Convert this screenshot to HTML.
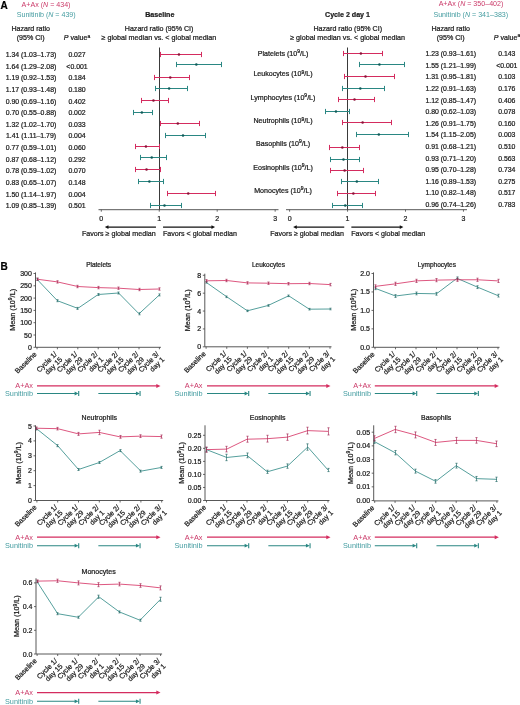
<!DOCTYPE html>
<html lang="en"><head><meta charset="utf-8"><title>Figure</title>
<style>
html,body{margin:0;padding:0;background:#fff;}
body{width:520px;height:705px;overflow:hidden;}
svg{display:block;font-family:"Liberation Sans",Arial,Helvetica,sans-serif;}
text{stroke-width:0.22px;}
</style></head><body>
<svg width="520" height="705" viewBox="0 0 520 705">
<rect width="520" height="705" fill="#ffffff"/>
<text x="0.50" y="8.70" font-size="10" font-weight="bold" fill="#000" stroke="#000">A</text>
<text x="46.00" y="7.30" font-size="7.1" text-anchor="middle" fill="#cb3a69">A+Ax (<tspan font-style="italic">N</tspan> = 434)</text>
<text x="46.20" y="17.20" font-size="7.1" text-anchor="middle" fill="#459da1">Sunitinib (<tspan font-style="italic">N</tspan> = 439)</text>
<text x="471.00" y="6.30" font-size="7.1" text-anchor="middle" fill="#cb3a69">A+Ax (<tspan font-style="italic">N</tspan> = 350–402)</text>
<text x="470.80" y="16.90" font-size="7.1" text-anchor="middle" fill="#459da1">Sunitinib (<tspan font-style="italic">N</tspan> = 341–383)</text>
<text x="159.80" y="16.50" font-size="7.1" text-anchor="middle" font-weight="bold" fill="#1a1a1a" stroke="#1a1a1a">Baseline</text>
<text x="347.50" y="16.50" font-size="7.1" text-anchor="middle" font-weight="bold" fill="#1a1a1a" stroke="#1a1a1a">Cycle 2 day 1</text>
<text x="159.10" y="30.50" font-size="7.1" text-anchor="middle" fill="#1a1a1a" stroke="#1a1a1a">Hazard ratio (95% CI)</text>
<text x="158.90" y="39.90" font-size="7.2" text-anchor="middle" fill="#1a1a1a" stroke="#1a1a1a">≥ global median vs. &lt; global median</text>
<text x="347.80" y="30.50" font-size="7.1" text-anchor="middle" fill="#1a1a1a" stroke="#1a1a1a">Hazard ratio (95% CI)</text>
<text x="347.60" y="39.90" font-size="7.2" text-anchor="middle" fill="#1a1a1a" stroke="#1a1a1a">≥ global median vs. &lt; global median</text>
<text x="30.70" y="31.10" font-size="7.1" text-anchor="middle" fill="#1a1a1a" stroke="#1a1a1a">Hazard ratio</text>
<text x="30.70" y="40.30" font-size="7.1" text-anchor="middle" fill="#1a1a1a" stroke="#1a1a1a">(95% CI)</text>
<text x="77.00" y="40.30" font-size="7.1" text-anchor="middle" fill="#1a1a1a" stroke="#1a1a1a"><tspan font-style="italic">P</tspan> value<tspan font-size="5" dy="-2.8">a</tspan></text>
<text x="450.70" y="30.60" font-size="7.1" text-anchor="middle" fill="#1a1a1a" stroke="#1a1a1a">Hazard ratio</text>
<text x="450.70" y="39.80" font-size="7.1" text-anchor="middle" fill="#1a1a1a" stroke="#1a1a1a">(95% CI)</text>
<text x="507.00" y="39.80" font-size="7.1" text-anchor="middle" fill="#1a1a1a" stroke="#1a1a1a"><tspan font-style="italic">P</tspan> value<tspan font-size="5" dy="-2.8">a</tspan></text>
<text x="31.00" y="56.90" font-size="6.9" text-anchor="middle" fill="#1a1a1a" stroke="#1a1a1a">1.34 (1.03–1.73)</text>
<text x="77.00" y="56.90" font-size="6.9" text-anchor="middle" fill="#1a1a1a" stroke="#1a1a1a">0.027</text>
<text x="31.00" y="68.55" font-size="6.9" text-anchor="middle" fill="#1a1a1a" stroke="#1a1a1a">1.64 (1.29–2.08)</text>
<text x="77.00" y="68.55" font-size="6.9" text-anchor="middle" fill="#1a1a1a" stroke="#1a1a1a">&lt;0.001</text>
<text x="31.00" y="80.20" font-size="6.9" text-anchor="middle" fill="#1a1a1a" stroke="#1a1a1a">1.19 (0.92–1.53)</text>
<text x="77.00" y="80.20" font-size="6.9" text-anchor="middle" fill="#1a1a1a" stroke="#1a1a1a">0.184</text>
<text x="31.00" y="91.85" font-size="6.9" text-anchor="middle" fill="#1a1a1a" stroke="#1a1a1a">1.17 (0.93–1.48)</text>
<text x="77.00" y="91.85" font-size="6.9" text-anchor="middle" fill="#1a1a1a" stroke="#1a1a1a">0.180</text>
<text x="31.00" y="103.50" font-size="6.9" text-anchor="middle" fill="#1a1a1a" stroke="#1a1a1a">0.90 (0.69–1.16)</text>
<text x="77.00" y="103.50" font-size="6.9" text-anchor="middle" fill="#1a1a1a" stroke="#1a1a1a">0.402</text>
<text x="31.00" y="115.15" font-size="6.9" text-anchor="middle" fill="#1a1a1a" stroke="#1a1a1a">0.70 (0.55–0.88)</text>
<text x="77.00" y="115.15" font-size="6.9" text-anchor="middle" fill="#1a1a1a" stroke="#1a1a1a">0.002</text>
<text x="31.00" y="126.80" font-size="6.9" text-anchor="middle" fill="#1a1a1a" stroke="#1a1a1a">1.32 (1.02–1.70)</text>
<text x="77.00" y="126.80" font-size="6.9" text-anchor="middle" fill="#1a1a1a" stroke="#1a1a1a">0.033</text>
<text x="31.00" y="138.45" font-size="6.9" text-anchor="middle" fill="#1a1a1a" stroke="#1a1a1a">1.41 (1.11–1.79)</text>
<text x="77.00" y="138.45" font-size="6.9" text-anchor="middle" fill="#1a1a1a" stroke="#1a1a1a">0.004</text>
<text x="31.00" y="150.10" font-size="6.9" text-anchor="middle" fill="#1a1a1a" stroke="#1a1a1a">0.77 (0.59–1.01)</text>
<text x="77.00" y="150.10" font-size="6.9" text-anchor="middle" fill="#1a1a1a" stroke="#1a1a1a">0.060</text>
<text x="31.00" y="161.75" font-size="6.9" text-anchor="middle" fill="#1a1a1a" stroke="#1a1a1a">0.87 (0.68–1.12)</text>
<text x="77.00" y="161.75" font-size="6.9" text-anchor="middle" fill="#1a1a1a" stroke="#1a1a1a">0.292</text>
<text x="31.00" y="173.40" font-size="6.9" text-anchor="middle" fill="#1a1a1a" stroke="#1a1a1a">0.78 (0.59–1.02)</text>
<text x="77.00" y="173.40" font-size="6.9" text-anchor="middle" fill="#1a1a1a" stroke="#1a1a1a">0.070</text>
<text x="31.00" y="185.05" font-size="6.9" text-anchor="middle" fill="#1a1a1a" stroke="#1a1a1a">0.83 (0.65–1.07)</text>
<text x="77.00" y="185.05" font-size="6.9" text-anchor="middle" fill="#1a1a1a" stroke="#1a1a1a">0.148</text>
<text x="31.00" y="196.70" font-size="6.9" text-anchor="middle" fill="#1a1a1a" stroke="#1a1a1a">1.50 (1.14–1.97)</text>
<text x="77.00" y="196.70" font-size="6.9" text-anchor="middle" fill="#1a1a1a" stroke="#1a1a1a">0.004</text>
<text x="31.00" y="208.35" font-size="6.9" text-anchor="middle" fill="#1a1a1a" stroke="#1a1a1a">1.09 (0.85–1.39)</text>
<text x="77.00" y="208.35" font-size="6.9" text-anchor="middle" fill="#1a1a1a" stroke="#1a1a1a">0.501</text>
<text x="450.80" y="55.60" font-size="6.9" text-anchor="middle" fill="#1a1a1a" stroke="#1a1a1a">1.23 (0.93–1.61)</text>
<text x="506.80" y="55.60" font-size="6.9" text-anchor="middle" fill="#1a1a1a" stroke="#1a1a1a">0.143</text>
<text x="450.80" y="67.60" font-size="6.9" text-anchor="middle" fill="#1a1a1a" stroke="#1a1a1a">1.55 (1.21–1.99)</text>
<text x="506.80" y="67.60" font-size="6.9" text-anchor="middle" fill="#1a1a1a" stroke="#1a1a1a">&lt;0.001</text>
<text x="450.80" y="79.00" font-size="6.9" text-anchor="middle" fill="#1a1a1a" stroke="#1a1a1a">1.31 (0.95–1.81)</text>
<text x="506.80" y="79.00" font-size="6.9" text-anchor="middle" fill="#1a1a1a" stroke="#1a1a1a">0.103</text>
<text x="450.80" y="90.60" font-size="6.9" text-anchor="middle" fill="#1a1a1a" stroke="#1a1a1a">1.22 (0.91–1.63)</text>
<text x="506.80" y="90.60" font-size="6.9" text-anchor="middle" fill="#1a1a1a" stroke="#1a1a1a">0.176</text>
<text x="450.80" y="102.50" font-size="6.9" text-anchor="middle" fill="#1a1a1a" stroke="#1a1a1a">1.12 (0.85–1.47)</text>
<text x="506.80" y="102.50" font-size="6.9" text-anchor="middle" fill="#1a1a1a" stroke="#1a1a1a">0.406</text>
<text x="450.80" y="114.20" font-size="6.9" text-anchor="middle" fill="#1a1a1a" stroke="#1a1a1a">0.80 (0.62–1.03)</text>
<text x="506.80" y="114.20" font-size="6.9" text-anchor="middle" fill="#1a1a1a" stroke="#1a1a1a">0.078</text>
<text x="450.80" y="125.80" font-size="6.9" text-anchor="middle" fill="#1a1a1a" stroke="#1a1a1a">1.26 (0.91–1.75)</text>
<text x="506.80" y="125.80" font-size="6.9" text-anchor="middle" fill="#1a1a1a" stroke="#1a1a1a">0.160</text>
<text x="450.80" y="136.80" font-size="6.9" text-anchor="middle" fill="#1a1a1a" stroke="#1a1a1a">1.54 (1.15–2.05)</text>
<text x="506.80" y="136.80" font-size="6.9" text-anchor="middle" fill="#1a1a1a" stroke="#1a1a1a">0.003</text>
<text x="450.80" y="149.30" font-size="6.9" text-anchor="middle" fill="#1a1a1a" stroke="#1a1a1a">0.91 (0.68–1.21)</text>
<text x="506.80" y="149.30" font-size="6.9" text-anchor="middle" fill="#1a1a1a" stroke="#1a1a1a">0.510</text>
<text x="450.80" y="160.50" font-size="6.9" text-anchor="middle" fill="#1a1a1a" stroke="#1a1a1a">0.93 (0.71–1.20)</text>
<text x="506.80" y="160.50" font-size="6.9" text-anchor="middle" fill="#1a1a1a" stroke="#1a1a1a">0.563</text>
<text x="450.80" y="172.00" font-size="6.9" text-anchor="middle" fill="#1a1a1a" stroke="#1a1a1a">0.95 (0.70–1.28)</text>
<text x="506.80" y="172.00" font-size="6.9" text-anchor="middle" fill="#1a1a1a" stroke="#1a1a1a">0.734</text>
<text x="450.80" y="183.80" font-size="6.9" text-anchor="middle" fill="#1a1a1a" stroke="#1a1a1a">1.16 (0.89–1.53)</text>
<text x="506.80" y="183.80" font-size="6.9" text-anchor="middle" fill="#1a1a1a" stroke="#1a1a1a">0.275</text>
<text x="450.80" y="195.20" font-size="6.9" text-anchor="middle" fill="#1a1a1a" stroke="#1a1a1a">1.10 (0.82–1.48)</text>
<text x="506.80" y="195.20" font-size="6.9" text-anchor="middle" fill="#1a1a1a" stroke="#1a1a1a">0.517</text>
<text x="450.80" y="206.70" font-size="6.9" text-anchor="middle" fill="#1a1a1a" stroke="#1a1a1a">0.96 (0.74–1.26)</text>
<text x="506.80" y="206.70" font-size="6.9" text-anchor="middle" fill="#1a1a1a" stroke="#1a1a1a">0.783</text>
<text x="283.00" y="55.80" font-size="7.1" text-anchor="middle" fill="#1a1a1a" stroke="#1a1a1a">Platelets (10<tspan font-size="5" dy="-2.8">9</tspan><tspan dy="2.8">/L)</tspan></text>
<text x="283.00" y="76.30" font-size="7.1" text-anchor="middle" fill="#1a1a1a" stroke="#1a1a1a">Leukocytes (10<tspan font-size="5" dy="-2.8">9</tspan><tspan dy="2.8">/L)</tspan></text>
<text x="283.00" y="99.60" font-size="7.1" text-anchor="middle" fill="#1a1a1a" stroke="#1a1a1a">Lymphocytes (10<tspan font-size="5" dy="-2.8">9</tspan><tspan dy="2.8">/L)</tspan></text>
<text x="283.00" y="123.30" font-size="7.1" text-anchor="middle" fill="#1a1a1a" stroke="#1a1a1a">Neutrophils (10<tspan font-size="5" dy="-2.8">9</tspan><tspan dy="2.8">/L)</tspan></text>
<text x="283.00" y="145.90" font-size="7.1" text-anchor="middle" fill="#1a1a1a" stroke="#1a1a1a">Basophils (10<tspan font-size="5" dy="-2.8">9</tspan><tspan dy="2.8">/L)</tspan></text>
<text x="283.00" y="169.50" font-size="7.1" text-anchor="middle" fill="#1a1a1a" stroke="#1a1a1a">Eosinophils (10<tspan font-size="5" dy="-2.8">9</tspan><tspan dy="2.8">/L)</tspan></text>
<text x="283.00" y="192.80" font-size="7.1" text-anchor="middle" fill="#1a1a1a" stroke="#1a1a1a">Monocytes (10<tspan font-size="5" dy="-2.8">9</tspan><tspan dy="2.8">/L)</tspan></text>
<line x1="159.50" y1="47.5" x2="159.50" y2="209.7" stroke="#3a3a3a" stroke-width="1"/>
<line x1="98.5" y1="209.7" x2="278.5" y2="209.7" stroke="#454545" stroke-width="0.9"/>
<line x1="101.30" y1="209.7" x2="101.30" y2="211.7" stroke="#454545" stroke-width="0.8"/>
<text x="101.30" y="220.50" font-size="7" text-anchor="middle" fill="#1a1a1a" stroke="#1a1a1a">0</text>
<line x1="159.25" y1="209.7" x2="159.25" y2="211.7" stroke="#454545" stroke-width="0.8"/>
<text x="159.25" y="220.50" font-size="7" text-anchor="middle" fill="#1a1a1a" stroke="#1a1a1a">1</text>
<line x1="217.20" y1="209.7" x2="217.20" y2="211.7" stroke="#454545" stroke-width="0.8"/>
<text x="217.20" y="220.50" font-size="7" text-anchor="middle" fill="#1a1a1a" stroke="#1a1a1a">2</text>
<line x1="275.15" y1="209.7" x2="275.15" y2="211.7" stroke="#454545" stroke-width="0.8"/>
<text x="275.15" y="220.50" font-size="7" text-anchor="middle" fill="#1a1a1a" stroke="#1a1a1a">3</text>
<path d="M160.50 51.90V57.10M201.50 51.90V57.10M160.50 54.50H201.50" stroke="#d42c5f" stroke-width="1" fill="none"/>
<circle cx="178.95" cy="54.50" r="1.25" fill="#8c1238"/>
<path d="M176.50 61.90V67.10M221.50 61.90V67.10M176.50 64.50H221.50" stroke="#2a8783" stroke-width="1" fill="none"/>
<circle cx="196.34" cy="64.50" r="1.25" fill="#0f5a58"/>
<path d="M154.50 74.90V80.10M189.50 74.90V80.10M154.50 77.50H189.50" stroke="#d42c5f" stroke-width="1" fill="none"/>
<circle cx="170.26" cy="77.50" r="1.25" fill="#8c1238"/>
<path d="M155.50 85.90V91.10M187.50 85.90V91.10M155.50 88.50H187.50" stroke="#2a8783" stroke-width="1" fill="none"/>
<circle cx="169.10" cy="88.50" r="1.25" fill="#0f5a58"/>
<path d="M141.50 97.90V103.10M168.50 97.90V103.10M141.50 100.50H168.50" stroke="#d42c5f" stroke-width="1" fill="none"/>
<circle cx="153.45" cy="100.50" r="1.25" fill="#8c1238"/>
<path d="M133.50 109.90V115.10M152.50 109.90V115.10M133.50 112.50H152.50" stroke="#2a8783" stroke-width="1" fill="none"/>
<circle cx="141.87" cy="112.50" r="1.25" fill="#0f5a58"/>
<path d="M160.50 120.90V126.10M199.50 120.90V126.10M160.50 123.50H199.50" stroke="#d42c5f" stroke-width="1" fill="none"/>
<circle cx="177.79" cy="123.50" r="1.25" fill="#8c1238"/>
<path d="M165.50 132.90V138.10M205.50 132.90V138.10M165.50 135.50H205.50" stroke="#2a8783" stroke-width="1" fill="none"/>
<circle cx="183.01" cy="135.50" r="1.25" fill="#0f5a58"/>
<path d="M135.50 143.90V149.10M159.50 143.90V149.10M135.50 146.50H159.50" stroke="#d42c5f" stroke-width="1" fill="none"/>
<circle cx="145.92" cy="146.50" r="1.25" fill="#8c1238"/>
<path d="M140.50 154.90V160.10M166.50 154.90V160.10M140.50 157.50H166.50" stroke="#2a8783" stroke-width="1" fill="none"/>
<circle cx="151.72" cy="157.50" r="1.25" fill="#0f5a58"/>
<path d="M135.50 166.90V172.10M160.50 166.90V172.10M135.50 169.50H160.50" stroke="#d42c5f" stroke-width="1" fill="none"/>
<circle cx="146.50" cy="169.50" r="1.25" fill="#8c1238"/>
<path d="M138.50 178.90V184.10M163.50 178.90V184.10M138.50 181.50H163.50" stroke="#2a8783" stroke-width="1" fill="none"/>
<circle cx="149.40" cy="181.50" r="1.25" fill="#0f5a58"/>
<path d="M167.50 190.90V196.10M215.50 190.90V196.10M167.50 193.50H215.50" stroke="#d42c5f" stroke-width="1" fill="none"/>
<circle cx="188.23" cy="193.50" r="1.25" fill="#8c1238"/>
<path d="M150.50 202.90V208.10M181.50 202.90V208.10M150.50 205.50H181.50" stroke="#2a8783" stroke-width="1" fill="none"/>
<circle cx="164.47" cy="205.50" r="1.25" fill="#0f5a58"/>
<path d="M155.95 227.1H107.25" stroke="#111" stroke-width="1.1" fill="none"/>
<path d="M104.85 227.1l3.6 -1.9v3.8z" fill="#111"/>
<path d="M163.05 227.1H212.25" stroke="#111" stroke-width="1.1" fill="none"/>
<path d="M215.05 227.1l-3.6 -1.9v3.8z" fill="#111"/>
<text x="155.65" y="235.80" font-size="7.1" text-anchor="end" fill="#1a1a1a" stroke="#1a1a1a">Favors ≥ global median</text>
<text x="162.95" y="235.80" font-size="7.1" fill="#1a1a1a" stroke="#1a1a1a">Favors &lt; global median</text>
<line x1="347.50" y1="47.5" x2="347.50" y2="209.7" stroke="#3a3a3a" stroke-width="1"/>
<line x1="286" y1="209.7" x2="467" y2="209.7" stroke="#454545" stroke-width="0.9"/>
<line x1="289.60" y1="209.7" x2="289.60" y2="211.7" stroke="#454545" stroke-width="0.8"/>
<text x="289.60" y="220.50" font-size="7" text-anchor="middle" fill="#1a1a1a" stroke="#1a1a1a">0</text>
<line x1="347.55" y1="209.7" x2="347.55" y2="211.7" stroke="#454545" stroke-width="0.8"/>
<text x="347.55" y="220.50" font-size="7" text-anchor="middle" fill="#1a1a1a" stroke="#1a1a1a">1</text>
<line x1="405.50" y1="209.7" x2="405.50" y2="211.7" stroke="#454545" stroke-width="0.8"/>
<text x="405.50" y="220.50" font-size="7" text-anchor="middle" fill="#1a1a1a" stroke="#1a1a1a">2</text>
<line x1="463.45" y1="209.7" x2="463.45" y2="211.7" stroke="#454545" stroke-width="0.8"/>
<text x="463.45" y="220.50" font-size="7" text-anchor="middle" fill="#1a1a1a" stroke="#1a1a1a">3</text>
<path d="M343.50 50.90V56.10M382.50 50.90V56.10M343.50 53.50H382.50" stroke="#d42c5f" stroke-width="1" fill="none"/>
<circle cx="360.88" cy="53.50" r="1.25" fill="#8c1238"/>
<path d="M359.50 61.90V67.10M404.50 61.90V67.10M359.50 64.50H404.50" stroke="#2a8783" stroke-width="1" fill="none"/>
<circle cx="379.42" cy="64.50" r="1.25" fill="#0f5a58"/>
<path d="M344.50 73.90V79.10M394.50 73.90V79.10M344.50 76.50H394.50" stroke="#d42c5f" stroke-width="1" fill="none"/>
<circle cx="365.51" cy="76.50" r="1.25" fill="#8c1238"/>
<path d="M342.50 85.90V91.10M384.50 85.90V91.10M342.50 88.50H384.50" stroke="#2a8783" stroke-width="1" fill="none"/>
<circle cx="360.30" cy="88.50" r="1.25" fill="#0f5a58"/>
<path d="M338.50 96.90V102.10M374.50 96.90V102.10M338.50 99.50H374.50" stroke="#d42c5f" stroke-width="1" fill="none"/>
<circle cx="354.50" cy="99.50" r="1.25" fill="#8c1238"/>
<path d="M325.50 108.90V114.10M349.50 108.90V114.10M325.50 111.50H349.50" stroke="#2a8783" stroke-width="1" fill="none"/>
<circle cx="335.96" cy="111.50" r="1.25" fill="#0f5a58"/>
<path d="M342.50 119.90V125.10M391.50 119.90V125.10M342.50 122.50H391.50" stroke="#d42c5f" stroke-width="1" fill="none"/>
<circle cx="362.62" cy="122.50" r="1.25" fill="#8c1238"/>
<path d="M356.50 131.90V137.10M408.50 131.90V137.10M356.50 134.50H408.50" stroke="#2a8783" stroke-width="1" fill="none"/>
<circle cx="378.84" cy="134.50" r="1.25" fill="#0f5a58"/>
<path d="M329.50 144.90V150.10M359.50 144.90V150.10M329.50 147.50H359.50" stroke="#d42c5f" stroke-width="1" fill="none"/>
<circle cx="342.33" cy="147.50" r="1.25" fill="#8c1238"/>
<path d="M330.50 156.90V162.10M359.50 156.90V162.10M330.50 159.50H359.50" stroke="#2a8783" stroke-width="1" fill="none"/>
<circle cx="343.49" cy="159.50" r="1.25" fill="#0f5a58"/>
<path d="M330.50 167.90V173.10M363.50 167.90V173.10M330.50 170.50H363.50" stroke="#d42c5f" stroke-width="1" fill="none"/>
<circle cx="344.65" cy="170.50" r="1.25" fill="#8c1238"/>
<path d="M341.50 178.90V184.10M378.50 178.90V184.10M341.50 181.50H378.50" stroke="#2a8783" stroke-width="1" fill="none"/>
<circle cx="356.82" cy="181.50" r="1.25" fill="#0f5a58"/>
<path d="M337.50 190.90V196.10M375.50 190.90V196.10M337.50 193.50H375.50" stroke="#d42c5f" stroke-width="1" fill="none"/>
<circle cx="353.35" cy="193.50" r="1.25" fill="#8c1238"/>
<path d="M332.50 202.90V208.10M362.50 202.90V208.10M332.50 205.50H362.50" stroke="#2a8783" stroke-width="1" fill="none"/>
<circle cx="345.23" cy="205.50" r="1.25" fill="#0f5a58"/>
<path d="M344.25 227.1H295.55" stroke="#111" stroke-width="1.1" fill="none"/>
<path d="M293.15 227.1l3.6 -1.9v3.8z" fill="#111"/>
<path d="M351.35 227.1H400.55" stroke="#111" stroke-width="1.1" fill="none"/>
<path d="M403.35 227.1l-3.6 -1.9v3.8z" fill="#111"/>
<text x="343.95" y="235.80" font-size="7.1" text-anchor="end" fill="#1a1a1a" stroke="#1a1a1a">Favors ≥ global median</text>
<text x="351.25" y="235.80" font-size="7.1" fill="#1a1a1a" stroke="#1a1a1a">Favors &lt; global median</text>
<text x="0.40" y="269.90" font-size="10" font-weight="bold" fill="#000" stroke="#000">B</text>
<text x="98.60" y="266.70" font-size="6.5" text-anchor="middle" fill="#1a1a1a" stroke="#1a1a1a">Platelets</text>
<path d="M35.50 272.40V347.30H160.90" stroke="#454545" stroke-width="0.9" fill="none"/>
<line x1="33.50" y1="347.30" x2="35.50" y2="347.30" stroke="#454545" stroke-width="0.8"/>
<text x="31.90" y="349.80" font-size="7" text-anchor="end" fill="#1a1a1a" stroke="#1a1a1a">0</text>
<line x1="33.50" y1="335.00" x2="35.50" y2="335.00" stroke="#454545" stroke-width="0.8"/>
<text x="31.90" y="337.50" font-size="7" text-anchor="end" fill="#1a1a1a" stroke="#1a1a1a">50</text>
<line x1="33.50" y1="322.70" x2="35.50" y2="322.70" stroke="#454545" stroke-width="0.8"/>
<text x="31.90" y="325.20" font-size="7" text-anchor="end" fill="#1a1a1a" stroke="#1a1a1a">100</text>
<line x1="33.50" y1="310.40" x2="35.50" y2="310.40" stroke="#454545" stroke-width="0.8"/>
<text x="31.90" y="312.90" font-size="7" text-anchor="end" fill="#1a1a1a" stroke="#1a1a1a">150</text>
<line x1="33.50" y1="298.10" x2="35.50" y2="298.10" stroke="#454545" stroke-width="0.8"/>
<text x="31.90" y="300.60" font-size="7" text-anchor="end" fill="#1a1a1a" stroke="#1a1a1a">200</text>
<line x1="33.50" y1="285.80" x2="35.50" y2="285.80" stroke="#454545" stroke-width="0.8"/>
<text x="31.90" y="288.30" font-size="7" text-anchor="end" fill="#1a1a1a" stroke="#1a1a1a">250</text>
<line x1="33.50" y1="273.50" x2="35.50" y2="273.50" stroke="#454545" stroke-width="0.8"/>
<text x="31.90" y="276.00" font-size="7" text-anchor="end" fill="#1a1a1a" stroke="#1a1a1a">300</text>
<line x1="37.00" y1="347.30" x2="37.00" y2="349.30" stroke="#454545" stroke-width="0.8"/>
<line x1="57.40" y1="347.30" x2="57.40" y2="349.30" stroke="#454545" stroke-width="0.8"/>
<line x1="77.80" y1="347.30" x2="77.80" y2="349.30" stroke="#454545" stroke-width="0.8"/>
<line x1="98.20" y1="347.30" x2="98.20" y2="349.30" stroke="#454545" stroke-width="0.8"/>
<line x1="118.60" y1="347.30" x2="118.60" y2="349.30" stroke="#454545" stroke-width="0.8"/>
<line x1="139.00" y1="347.30" x2="139.00" y2="349.30" stroke="#454545" stroke-width="0.8"/>
<line x1="159.40" y1="347.30" x2="159.40" y2="349.30" stroke="#454545" stroke-width="0.8"/>
<text transform="translate(14.50 309.85) rotate(-90)" font-size="7.25" text-anchor="middle" fill="#1a1a1a" stroke="#1a1a1a">Mean (10<tspan font-size="5" dy="-2.8">9</tspan><tspan dy="2.8">/L)</tspan></text>
<polyline points="37.00,279.30 57.40,300.70 77.80,308.40 98.20,294.50 118.60,293.00 139.00,313.80 159.40,294.90" fill="none" stroke="#2a8783" stroke-width="0.8" stroke-linejoin="round"/>
<path d="M37.50 278.30V280.30M36.40 278.30h2.2M36.40 280.30h2.2M57.50 299.70V301.70M56.40 299.70h2.2M56.40 301.70h2.2M77.50 307.40V309.40M76.40 307.40h2.2M76.40 309.40h2.2M98.50 293.50V295.50M97.40 293.50h2.2M97.40 295.50h2.2M118.50 292.00V294.00M117.40 292.00h2.2M117.40 294.00h2.2M139.50 312.80V314.80M138.40 312.80h2.2M138.40 314.80h2.2M159.50 293.90V295.90M158.40 293.90h2.2M158.40 295.90h2.2" stroke="#1d6461" stroke-width="0.65" fill="none"/>
<polyline points="37.00,279.20 57.40,281.90 77.80,286.50 98.20,287.60 118.60,288.20 139.00,289.50 159.40,289.00" fill="none" stroke="#d42c5f" stroke-width="0.8" stroke-linejoin="round"/>
<path d="M37.50 278.00V280.40M36.40 278.00h2.2M36.40 280.40h2.2M57.50 280.70V283.10M56.40 280.70h2.2M56.40 283.10h2.2M77.50 285.30V287.70M76.40 285.30h2.2M76.40 287.70h2.2M98.50 286.40V288.80M97.40 286.40h2.2M97.40 288.80h2.2M118.50 287.00V289.40M117.40 287.00h2.2M117.40 289.40h2.2M139.50 288.30V290.70M138.40 288.30h2.2M138.40 290.70h2.2M159.50 287.80V290.20M158.40 287.80h2.2M158.40 290.20h2.2" stroke="#a3224f" stroke-width="0.65" fill="none"/>
<text transform="translate(37.10 354.60) rotate(-45)" font-size="7.1" text-anchor="end" fill="#1a1a1a" stroke="#1a1a1a">Baseline</text>
<text transform="translate(57.50 354.60) rotate(-45)" font-size="7.1" text-anchor="end" fill="#1a1a1a" stroke="#1a1a1a"><tspan x="0" y="0">Cycle 1/</tspan><tspan x="0" y="7.6">day 15</tspan></text>
<text transform="translate(77.90 354.60) rotate(-45)" font-size="7.1" text-anchor="end" fill="#1a1a1a" stroke="#1a1a1a"><tspan x="0" y="0">Cycle 1/</tspan><tspan x="0" y="7.6">day 29</tspan></text>
<text transform="translate(98.30 354.60) rotate(-45)" font-size="7.1" text-anchor="end" fill="#1a1a1a" stroke="#1a1a1a"><tspan x="0" y="0">Cycle 2/</tspan><tspan x="0" y="7.6">day 1</tspan></text>
<text transform="translate(118.70 354.60) rotate(-45)" font-size="7.1" text-anchor="end" fill="#1a1a1a" stroke="#1a1a1a"><tspan x="0" y="0">Cycle 2/</tspan><tspan x="0" y="7.6">day 15</tspan></text>
<text transform="translate(139.10 354.60) rotate(-45)" font-size="7.1" text-anchor="end" fill="#1a1a1a" stroke="#1a1a1a"><tspan x="0" y="0">Cycle 2/</tspan><tspan x="0" y="7.6">day 29</tspan></text>
<text transform="translate(159.50 354.60) rotate(-45)" font-size="7.1" text-anchor="end" fill="#1a1a1a" stroke="#1a1a1a"><tspan x="0" y="0">Cycle 3/</tspan><tspan x="0" y="7.6">day 1</tspan></text>
<text x="33.00" y="388.40" font-size="7.3" text-anchor="end" fill="#cb3a69">A+Ax</text>
<text x="33.00" y="396.00" font-size="7.3" text-anchor="end" fill="#459da1">Sunitinib</text>
<path d="M37.00 385.9H157.20" stroke="#d42c5f" stroke-width="1.2" fill="none"/>
<path d="M160.50 385.9l-4.2 -2v4z" fill="#d42c5f"/>
<path d="M37.00 393.5H75.90M78.70 391.0v5" stroke="#2a8783" stroke-width="1.1" fill="none"/>
<path d="M78.40 393.5l-3.8 -1.9v3.8z" fill="#2a8783"/>
<path d="M98.35 393.5H137.25M140.05 391.0v5" stroke="#2a8783" stroke-width="1.1" fill="none"/>
<path d="M139.75 393.5l-3.8 -1.9v3.8z" fill="#2a8783"/>
<text x="268.45" y="266.70" font-size="6.5" text-anchor="middle" fill="#1a1a1a" stroke="#1a1a1a">Leukocytes</text>
<path d="M204.80 273.70V346.80H331.50" stroke="#454545" stroke-width="0.9" fill="none"/>
<line x1="202.80" y1="346.80" x2="204.80" y2="346.80" stroke="#454545" stroke-width="0.8"/>
<text x="201.20" y="349.30" font-size="7" text-anchor="end" fill="#1a1a1a" stroke="#1a1a1a">0</text>
<line x1="202.80" y1="328.93" x2="204.80" y2="328.93" stroke="#454545" stroke-width="0.8"/>
<text x="201.20" y="331.43" font-size="7" text-anchor="end" fill="#1a1a1a" stroke="#1a1a1a">2</text>
<line x1="202.80" y1="311.05" x2="204.80" y2="311.05" stroke="#454545" stroke-width="0.8"/>
<text x="201.20" y="313.55" font-size="7" text-anchor="end" fill="#1a1a1a" stroke="#1a1a1a">4</text>
<line x1="202.80" y1="293.18" x2="204.80" y2="293.18" stroke="#454545" stroke-width="0.8"/>
<text x="201.20" y="295.68" font-size="7" text-anchor="end" fill="#1a1a1a" stroke="#1a1a1a">6</text>
<line x1="202.80" y1="275.30" x2="204.80" y2="275.30" stroke="#454545" stroke-width="0.8"/>
<text x="201.20" y="277.80" font-size="7" text-anchor="end" fill="#1a1a1a" stroke="#1a1a1a">8</text>
<line x1="206.10" y1="346.80" x2="206.10" y2="348.80" stroke="#454545" stroke-width="0.8"/>
<line x1="226.75" y1="346.80" x2="226.75" y2="348.80" stroke="#454545" stroke-width="0.8"/>
<line x1="247.40" y1="346.80" x2="247.40" y2="348.80" stroke="#454545" stroke-width="0.8"/>
<line x1="268.05" y1="346.80" x2="268.05" y2="348.80" stroke="#454545" stroke-width="0.8"/>
<line x1="288.70" y1="346.80" x2="288.70" y2="348.80" stroke="#454545" stroke-width="0.8"/>
<line x1="309.35" y1="346.80" x2="309.35" y2="348.80" stroke="#454545" stroke-width="0.8"/>
<line x1="330.00" y1="346.80" x2="330.00" y2="348.80" stroke="#454545" stroke-width="0.8"/>
<text transform="translate(189.80 310.25) rotate(-90)" font-size="7.25" text-anchor="middle" fill="#1a1a1a" stroke="#1a1a1a">Mean (10<tspan font-size="5" dy="-2.8">9</tspan><tspan dy="2.8">/L)</tspan></text>
<polyline points="206.10,282.30 226.75,296.80 247.40,310.80 268.05,305.50 288.70,295.80 309.35,309.20 330.00,309.00" fill="none" stroke="#2a8783" stroke-width="0.8" stroke-linejoin="round"/>
<path d="M206.50 281.50V283.10M205.40 281.50h2.2M205.40 283.10h2.2M226.50 296.00V297.60M225.40 296.00h2.2M225.40 297.60h2.2M247.50 310.00V311.60M246.40 310.00h2.2M246.40 311.60h2.2M268.50 304.70V306.30M267.40 304.70h2.2M267.40 306.30h2.2M288.50 295.00V296.60M287.40 295.00h2.2M287.40 296.60h2.2M309.50 308.40V310.00M308.40 308.40h2.2M308.40 310.00h2.2M330.50 308.20V309.80M329.40 308.20h2.2M329.40 309.80h2.2" stroke="#1d6461" stroke-width="0.65" fill="none"/>
<polyline points="206.10,280.80 226.75,280.50 247.40,282.90 268.05,283.20 288.70,283.70 309.35,283.50 330.00,284.60" fill="none" stroke="#d42c5f" stroke-width="0.8" stroke-linejoin="round"/>
<path d="M206.50 279.60V282.00M205.40 279.60h2.2M205.40 282.00h2.2M226.50 279.30V281.70M225.40 279.30h2.2M225.40 281.70h2.2M247.50 281.70V284.10M246.40 281.70h2.2M246.40 284.10h2.2M268.50 282.00V284.40M267.40 282.00h2.2M267.40 284.40h2.2M288.50 282.50V284.90M287.40 282.50h2.2M287.40 284.90h2.2M309.50 282.30V284.70M308.40 282.30h2.2M308.40 284.70h2.2M330.50 283.40V285.80M329.40 283.40h2.2M329.40 285.80h2.2" stroke="#a3224f" stroke-width="0.65" fill="none"/>
<text transform="translate(206.20 354.10) rotate(-45)" font-size="7.1" text-anchor="end" fill="#1a1a1a" stroke="#1a1a1a">Baseline</text>
<text transform="translate(226.85 354.10) rotate(-45)" font-size="7.1" text-anchor="end" fill="#1a1a1a" stroke="#1a1a1a"><tspan x="0" y="0">Cycle 1/</tspan><tspan x="0" y="7.6">day 15</tspan></text>
<text transform="translate(247.50 354.10) rotate(-45)" font-size="7.1" text-anchor="end" fill="#1a1a1a" stroke="#1a1a1a"><tspan x="0" y="0">Cycle 1/</tspan><tspan x="0" y="7.6">day 29</tspan></text>
<text transform="translate(268.15 354.10) rotate(-45)" font-size="7.1" text-anchor="end" fill="#1a1a1a" stroke="#1a1a1a"><tspan x="0" y="0">Cycle 2/</tspan><tspan x="0" y="7.6">day 1</tspan></text>
<text transform="translate(288.80 354.10) rotate(-45)" font-size="7.1" text-anchor="end" fill="#1a1a1a" stroke="#1a1a1a"><tspan x="0" y="0">Cycle 2/</tspan><tspan x="0" y="7.6">day 15</tspan></text>
<text transform="translate(309.45 354.10) rotate(-45)" font-size="7.1" text-anchor="end" fill="#1a1a1a" stroke="#1a1a1a"><tspan x="0" y="0">Cycle 2/</tspan><tspan x="0" y="7.6">day 29</tspan></text>
<text transform="translate(330.10 354.10) rotate(-45)" font-size="7.1" text-anchor="end" fill="#1a1a1a" stroke="#1a1a1a"><tspan x="0" y="0">Cycle 3/</tspan><tspan x="0" y="7.6">day 1</tspan></text>
<text x="202.50" y="388.40" font-size="7.3" text-anchor="end" fill="#cb3a69">A+Ax</text>
<text x="202.50" y="396.00" font-size="7.3" text-anchor="end" fill="#459da1">Sunitinib</text>
<path d="M207.00 385.9H327.20" stroke="#d42c5f" stroke-width="1.2" fill="none"/>
<path d="M330.50 385.9l-4.2 -2v4z" fill="#d42c5f"/>
<path d="M207.00 393.5H245.90M248.70 391.0v5" stroke="#2a8783" stroke-width="1.1" fill="none"/>
<path d="M248.40 393.5l-3.8 -1.9v3.8z" fill="#2a8783"/>
<path d="M268.35 393.5H307.25M310.05 391.0v5" stroke="#2a8783" stroke-width="1.1" fill="none"/>
<path d="M309.75 393.5l-3.8 -1.9v3.8z" fill="#2a8783"/>
<text x="436.90" y="266.70" font-size="6.5" text-anchor="middle" fill="#1a1a1a" stroke="#1a1a1a">Lymphocytes</text>
<path d="M373.50 272.40V347.30H499.50" stroke="#454545" stroke-width="0.9" fill="none"/>
<line x1="371.50" y1="347.30" x2="373.50" y2="347.30" stroke="#454545" stroke-width="0.8"/>
<text x="369.90" y="349.80" font-size="7" text-anchor="end" fill="#1a1a1a" stroke="#1a1a1a">0.0</text>
<line x1="371.50" y1="328.85" x2="373.50" y2="328.85" stroke="#454545" stroke-width="0.8"/>
<text x="369.90" y="331.35" font-size="7" text-anchor="end" fill="#1a1a1a" stroke="#1a1a1a">0.5</text>
<line x1="371.50" y1="310.40" x2="373.50" y2="310.40" stroke="#454545" stroke-width="0.8"/>
<text x="369.90" y="312.90" font-size="7" text-anchor="end" fill="#1a1a1a" stroke="#1a1a1a">1.0</text>
<line x1="371.50" y1="291.95" x2="373.50" y2="291.95" stroke="#454545" stroke-width="0.8"/>
<text x="369.90" y="294.45" font-size="7" text-anchor="end" fill="#1a1a1a" stroke="#1a1a1a">1.5</text>
<line x1="371.50" y1="273.50" x2="373.50" y2="273.50" stroke="#454545" stroke-width="0.8"/>
<text x="369.90" y="276.00" font-size="7" text-anchor="end" fill="#1a1a1a" stroke="#1a1a1a">2.0</text>
<line x1="375.00" y1="347.30" x2="375.00" y2="349.30" stroke="#454545" stroke-width="0.8"/>
<line x1="395.50" y1="347.30" x2="395.50" y2="349.30" stroke="#454545" stroke-width="0.8"/>
<line x1="416.00" y1="347.30" x2="416.00" y2="349.30" stroke="#454545" stroke-width="0.8"/>
<line x1="436.50" y1="347.30" x2="436.50" y2="349.30" stroke="#454545" stroke-width="0.8"/>
<line x1="457.00" y1="347.30" x2="457.00" y2="349.30" stroke="#454545" stroke-width="0.8"/>
<line x1="477.50" y1="347.30" x2="477.50" y2="349.30" stroke="#454545" stroke-width="0.8"/>
<line x1="498.00" y1="347.30" x2="498.00" y2="349.30" stroke="#454545" stroke-width="0.8"/>
<text transform="translate(356.30 309.85) rotate(-90)" font-size="7.25" text-anchor="middle" fill="#1a1a1a" stroke="#1a1a1a">Mean (10<tspan font-size="5" dy="-2.8">9</tspan><tspan dy="2.8">/L)</tspan></text>
<polyline points="375.00,288.26 395.50,296.01 416.00,293.43 436.50,293.80 457.00,278.30 477.50,287.15 498.00,295.64" fill="none" stroke="#2a8783" stroke-width="0.8" stroke-linejoin="round"/>
<path d="M375.50 286.86V289.66M374.40 286.86h2.2M374.40 289.66h2.2M395.50 294.61V297.41M394.40 294.61h2.2M394.40 297.41h2.2M416.50 292.03V294.83M415.40 292.03h2.2M415.40 294.83h2.2M436.50 292.40V295.19M435.40 292.40h2.2M435.40 295.19h2.2M457.50 276.90V279.70M456.40 276.90h2.2M456.40 279.70h2.2M477.50 285.75V288.55M476.40 285.75h2.2M476.40 288.55h2.2M498.50 294.24V297.04M497.40 294.24h2.2M497.40 297.04h2.2" stroke="#1d6461" stroke-width="0.65" fill="none"/>
<polyline points="375.00,286.42 395.50,283.83 416.00,280.88 436.50,280.14 457.00,279.77 477.50,279.77 498.00,280.88" fill="none" stroke="#d42c5f" stroke-width="0.8" stroke-linejoin="round"/>
<path d="M375.50 284.81V288.02M374.40 284.81h2.2M374.40 288.02h2.2M395.50 282.23V285.43M394.40 282.23h2.2M394.40 285.43h2.2M416.50 279.28V282.48M415.40 279.28h2.2M415.40 282.48h2.2M436.50 278.54V281.74M435.40 278.54h2.2M435.40 281.74h2.2M457.50 278.17V281.37M456.40 278.17h2.2M456.40 281.37h2.2M477.50 278.17V281.37M476.40 278.17h2.2M476.40 281.37h2.2M498.50 279.28V282.48M497.40 279.28h2.2M497.40 282.48h2.2" stroke="#a3224f" stroke-width="0.65" fill="none"/>
<text transform="translate(375.10 354.60) rotate(-45)" font-size="7.1" text-anchor="end" fill="#1a1a1a" stroke="#1a1a1a">Baseline</text>
<text transform="translate(395.60 354.60) rotate(-45)" font-size="7.1" text-anchor="end" fill="#1a1a1a" stroke="#1a1a1a"><tspan x="0" y="0">Cycle 1/</tspan><tspan x="0" y="7.6">day 15</tspan></text>
<text transform="translate(416.10 354.60) rotate(-45)" font-size="7.1" text-anchor="end" fill="#1a1a1a" stroke="#1a1a1a"><tspan x="0" y="0">Cycle 1/</tspan><tspan x="0" y="7.6">day 29</tspan></text>
<text transform="translate(436.60 354.60) rotate(-45)" font-size="7.1" text-anchor="end" fill="#1a1a1a" stroke="#1a1a1a"><tspan x="0" y="0">Cycle 2/</tspan><tspan x="0" y="7.6">day 1</tspan></text>
<text transform="translate(457.10 354.60) rotate(-45)" font-size="7.1" text-anchor="end" fill="#1a1a1a" stroke="#1a1a1a"><tspan x="0" y="0">Cycle 2/</tspan><tspan x="0" y="7.6">day 15</tspan></text>
<text transform="translate(477.60 354.60) rotate(-45)" font-size="7.1" text-anchor="end" fill="#1a1a1a" stroke="#1a1a1a"><tspan x="0" y="0">Cycle 2/</tspan><tspan x="0" y="7.6">day 29</tspan></text>
<text transform="translate(498.10 354.60) rotate(-45)" font-size="7.1" text-anchor="end" fill="#1a1a1a" stroke="#1a1a1a"><tspan x="0" y="0">Cycle 3/</tspan><tspan x="0" y="7.6">day 1</tspan></text>
<text x="371.00" y="388.40" font-size="7.3" text-anchor="end" fill="#cb3a69">A+Ax</text>
<text x="371.00" y="396.00" font-size="7.3" text-anchor="end" fill="#459da1">Sunitinib</text>
<path d="M374.80 385.9H495.60" stroke="#d42c5f" stroke-width="1.2" fill="none"/>
<path d="M498.90 385.9l-4.2 -2v4z" fill="#d42c5f"/>
<path d="M374.80 393.5H413.90M416.70 391.0v5" stroke="#2a8783" stroke-width="1.1" fill="none"/>
<path d="M416.40 393.5l-3.8 -1.9v3.8z" fill="#2a8783"/>
<path d="M436.45 393.5H475.55M478.35 391.0v5" stroke="#2a8783" stroke-width="1.1" fill="none"/>
<path d="M478.05 393.5l-3.8 -1.9v3.8z" fill="#2a8783"/>
<text x="99.30" y="420.30" font-size="7.0" text-anchor="middle" fill="#1a1a1a" stroke="#1a1a1a">Neutrophils</text>
<path d="M35.50 425.30V500.50H163.20" stroke="#454545" stroke-width="0.9" fill="none"/>
<line x1="33.50" y1="500.50" x2="35.50" y2="500.50" stroke="#454545" stroke-width="0.8"/>
<text x="31.90" y="503.00" font-size="7" text-anchor="end" fill="#1a1a1a" stroke="#1a1a1a">0</text>
<line x1="33.50" y1="485.60" x2="35.50" y2="485.60" stroke="#454545" stroke-width="0.8"/>
<text x="31.90" y="488.10" font-size="7" text-anchor="end" fill="#1a1a1a" stroke="#1a1a1a">1</text>
<line x1="33.50" y1="470.70" x2="35.50" y2="470.70" stroke="#454545" stroke-width="0.8"/>
<text x="31.90" y="473.20" font-size="7" text-anchor="end" fill="#1a1a1a" stroke="#1a1a1a">2</text>
<line x1="33.50" y1="455.80" x2="35.50" y2="455.80" stroke="#454545" stroke-width="0.8"/>
<text x="31.90" y="458.30" font-size="7" text-anchor="end" fill="#1a1a1a" stroke="#1a1a1a">3</text>
<line x1="33.50" y1="440.90" x2="35.50" y2="440.90" stroke="#454545" stroke-width="0.8"/>
<text x="31.90" y="443.40" font-size="7" text-anchor="end" fill="#1a1a1a" stroke="#1a1a1a">4</text>
<line x1="33.50" y1="426.00" x2="35.50" y2="426.00" stroke="#454545" stroke-width="0.8"/>
<text x="31.90" y="428.50" font-size="7" text-anchor="end" fill="#1a1a1a" stroke="#1a1a1a">5</text>
<line x1="36.90" y1="500.50" x2="36.90" y2="502.50" stroke="#454545" stroke-width="0.8"/>
<line x1="57.70" y1="500.50" x2="57.70" y2="502.50" stroke="#454545" stroke-width="0.8"/>
<line x1="78.50" y1="500.50" x2="78.50" y2="502.50" stroke="#454545" stroke-width="0.8"/>
<line x1="99.30" y1="500.50" x2="99.30" y2="502.50" stroke="#454545" stroke-width="0.8"/>
<line x1="120.10" y1="500.50" x2="120.10" y2="502.50" stroke="#454545" stroke-width="0.8"/>
<line x1="140.90" y1="500.50" x2="140.90" y2="502.50" stroke="#454545" stroke-width="0.8"/>
<line x1="161.70" y1="500.50" x2="161.70" y2="502.50" stroke="#454545" stroke-width="0.8"/>
<text transform="translate(20.70 462.90) rotate(-90)" font-size="7.25" text-anchor="middle" fill="#1a1a1a" stroke="#1a1a1a">Mean (10<tspan font-size="5" dy="-2.8">9</tspan><tspan dy="2.8">/L)</tspan></text>
<polyline points="36.90,428.98 57.70,445.67 78.50,469.51 99.30,462.50 120.10,450.58 140.90,471.15 161.70,467.42" fill="none" stroke="#2a8783" stroke-width="0.8" stroke-linejoin="round"/>
<path d="M36.50 427.98V429.98M35.40 427.98h2.2M35.40 429.98h2.2M57.50 444.67V446.67M56.40 444.67h2.2M56.40 446.67h2.2M78.50 468.51V470.51M77.40 468.51h2.2M77.40 470.51h2.2M99.50 461.50V463.50M98.40 461.50h2.2M98.40 463.50h2.2M120.50 449.58V451.58M119.40 449.58h2.2M119.40 451.58h2.2M140.50 470.15V472.15M139.40 470.15h2.2M139.40 472.15h2.2M161.50 466.42V468.42M160.40 466.42h2.2M160.40 468.42h2.2" stroke="#1d6461" stroke-width="0.65" fill="none"/>
<polyline points="36.90,428.24 57.70,428.68 78.50,433.90 99.30,432.41 120.10,436.88 140.90,436.13 161.70,436.58" fill="none" stroke="#d42c5f" stroke-width="0.8" stroke-linejoin="round"/>
<path d="M36.50 426.94V429.54M35.40 426.94h2.2M35.40 429.54h2.2M57.50 427.38V429.98M56.40 427.38h2.2M56.40 429.98h2.2M78.50 432.40V435.40M77.40 432.40h2.2M77.40 435.40h2.2M99.50 430.21V434.61M98.40 430.21h2.2M98.40 434.61h2.2M120.50 435.48V438.28M119.40 435.48h2.2M119.40 438.28h2.2M140.50 434.73V437.53M139.40 434.73h2.2M139.40 437.53h2.2M161.50 434.98V438.18M160.40 434.98h2.2M160.40 438.18h2.2" stroke="#a3224f" stroke-width="0.65" fill="none"/>
<text transform="translate(37.00 507.80) rotate(-45)" font-size="7.1" text-anchor="end" fill="#1a1a1a" stroke="#1a1a1a">Baseline</text>
<text transform="translate(57.80 507.80) rotate(-45)" font-size="7.1" text-anchor="end" fill="#1a1a1a" stroke="#1a1a1a"><tspan x="0" y="0">Cycle 1/</tspan><tspan x="0" y="7.6">day 15</tspan></text>
<text transform="translate(78.60 507.80) rotate(-45)" font-size="7.1" text-anchor="end" fill="#1a1a1a" stroke="#1a1a1a"><tspan x="0" y="0">Cycle 1/</tspan><tspan x="0" y="7.6">day 29</tspan></text>
<text transform="translate(99.40 507.80) rotate(-45)" font-size="7.1" text-anchor="end" fill="#1a1a1a" stroke="#1a1a1a"><tspan x="0" y="0">Cycle 2/</tspan><tspan x="0" y="7.6">day 1</tspan></text>
<text transform="translate(120.20 507.80) rotate(-45)" font-size="7.1" text-anchor="end" fill="#1a1a1a" stroke="#1a1a1a"><tspan x="0" y="0">Cycle 2/</tspan><tspan x="0" y="7.6">day 15</tspan></text>
<text transform="translate(141.00 507.80) rotate(-45)" font-size="7.1" text-anchor="end" fill="#1a1a1a" stroke="#1a1a1a"><tspan x="0" y="0">Cycle 2/</tspan><tspan x="0" y="7.6">day 29</tspan></text>
<text transform="translate(161.80 507.80) rotate(-45)" font-size="7.1" text-anchor="end" fill="#1a1a1a" stroke="#1a1a1a"><tspan x="0" y="0">Cycle 3/</tspan><tspan x="0" y="7.6">day 1</tspan></text>
<text x="33.00" y="539.70" font-size="7.3" text-anchor="end" fill="#cb3a69">A+Ax</text>
<text x="33.00" y="548.20" font-size="7.3" text-anchor="end" fill="#459da1">Sunitinib</text>
<path d="M37.00 537.2H157.20" stroke="#d42c5f" stroke-width="1.2" fill="none"/>
<path d="M160.50 537.2l-4.2 -2v4z" fill="#d42c5f"/>
<path d="M37.00 545.7H75.90M78.70 543.2v5" stroke="#2a8783" stroke-width="1.1" fill="none"/>
<path d="M78.40 545.7l-3.8 -1.9v3.8z" fill="#2a8783"/>
<path d="M98.35 545.7H137.25M140.05 543.2v5" stroke="#2a8783" stroke-width="1.1" fill="none"/>
<path d="M139.75 545.7l-3.8 -1.9v3.8z" fill="#2a8783"/>
<text x="267.65" y="420.30" font-size="7.0" text-anchor="middle" fill="#1a1a1a" stroke="#1a1a1a">Eosinophils</text>
<path d="M205.00 425.30V500.50H329.50" stroke="#454545" stroke-width="0.9" fill="none"/>
<line x1="203.00" y1="500.50" x2="205.00" y2="500.50" stroke="#454545" stroke-width="0.8"/>
<text x="201.40" y="503.00" font-size="7" text-anchor="end" fill="#1a1a1a" stroke="#1a1a1a">0.00</text>
<line x1="203.00" y1="487.46" x2="205.00" y2="487.46" stroke="#454545" stroke-width="0.8"/>
<text x="201.40" y="489.96" font-size="7" text-anchor="end" fill="#1a1a1a" stroke="#1a1a1a">0.05</text>
<line x1="203.00" y1="474.42" x2="205.00" y2="474.42" stroke="#454545" stroke-width="0.8"/>
<text x="201.40" y="476.92" font-size="7" text-anchor="end" fill="#1a1a1a" stroke="#1a1a1a">0.10</text>
<line x1="203.00" y1="461.38" x2="205.00" y2="461.38" stroke="#454545" stroke-width="0.8"/>
<text x="201.40" y="463.88" font-size="7" text-anchor="end" fill="#1a1a1a" stroke="#1a1a1a">0.15</text>
<line x1="203.00" y1="448.34" x2="205.00" y2="448.34" stroke="#454545" stroke-width="0.8"/>
<text x="201.40" y="450.84" font-size="7" text-anchor="end" fill="#1a1a1a" stroke="#1a1a1a">0.20</text>
<line x1="203.00" y1="435.30" x2="205.00" y2="435.30" stroke="#454545" stroke-width="0.8"/>
<text x="201.40" y="437.80" font-size="7" text-anchor="end" fill="#1a1a1a" stroke="#1a1a1a">0.25</text>
<line x1="206.50" y1="500.50" x2="206.50" y2="502.50" stroke="#454545" stroke-width="0.8"/>
<line x1="226.75" y1="500.50" x2="226.75" y2="502.50" stroke="#454545" stroke-width="0.8"/>
<line x1="247.00" y1="500.50" x2="247.00" y2="502.50" stroke="#454545" stroke-width="0.8"/>
<line x1="267.25" y1="500.50" x2="267.25" y2="502.50" stroke="#454545" stroke-width="0.8"/>
<line x1="287.50" y1="500.50" x2="287.50" y2="502.50" stroke="#454545" stroke-width="0.8"/>
<line x1="307.75" y1="500.50" x2="307.75" y2="502.50" stroke="#454545" stroke-width="0.8"/>
<line x1="328.00" y1="500.50" x2="328.00" y2="502.50" stroke="#454545" stroke-width="0.8"/>
<text transform="translate(184.20 462.90) rotate(-90)" font-size="7.25" text-anchor="middle" fill="#1a1a1a" stroke="#1a1a1a">Mean (10<tspan font-size="5" dy="-2.8">9</tspan><tspan dy="2.8">/L)</tspan></text>
<polyline points="206.50,449.64 226.75,457.47 247.00,455.38 267.25,471.81 287.50,466.07 307.75,447.04 328.00,469.99" fill="none" stroke="#2a8783" stroke-width="0.8" stroke-linejoin="round"/>
<path d="M206.50 447.44V451.84M205.40 447.44h2.2M205.40 451.84h2.2M226.50 454.27V460.67M225.40 454.27h2.2M225.40 460.67h2.2M247.50 452.98V457.78M246.40 452.98h2.2M246.40 457.78h2.2M267.50 470.21V473.41M266.40 470.21h2.2M266.40 473.41h2.2M287.50 463.87V468.27M286.40 463.87h2.2M286.40 468.27h2.2M307.50 443.84V450.24M306.40 443.84h2.2M306.40 450.24h2.2M328.50 468.39V471.59M327.40 468.39h2.2M327.40 471.59h2.2" stroke="#1d6461" stroke-width="0.65" fill="none"/>
<polyline points="206.50,449.64 226.75,449.12 247.00,439.21 267.25,438.69 287.50,437.13 307.75,430.61 328.00,431.39" fill="none" stroke="#d42c5f" stroke-width="0.8" stroke-linejoin="round"/>
<path d="M206.50 447.04V452.24M205.40 447.04h2.2M205.40 452.24h2.2M226.50 446.32V451.92M225.40 446.32h2.2M225.40 451.92h2.2M247.50 436.21V442.21M246.40 436.21h2.2M246.40 442.21h2.2M267.50 435.29V442.09M266.40 435.29h2.2M266.40 442.09h2.2M287.50 433.93V440.33M286.40 433.93h2.2M286.40 440.33h2.2M307.50 427.21V434.01M306.40 427.21h2.2M306.40 434.01h2.2M328.50 427.79V434.99M327.40 427.79h2.2M327.40 434.99h2.2" stroke="#a3224f" stroke-width="0.65" fill="none"/>
<text transform="translate(206.60 507.80) rotate(-45)" font-size="7.1" text-anchor="end" fill="#1a1a1a" stroke="#1a1a1a">Baseline</text>
<text transform="translate(226.85 507.80) rotate(-45)" font-size="7.1" text-anchor="end" fill="#1a1a1a" stroke="#1a1a1a"><tspan x="0" y="0">Cycle 1/</tspan><tspan x="0" y="7.6">day 15</tspan></text>
<text transform="translate(247.10 507.80) rotate(-45)" font-size="7.1" text-anchor="end" fill="#1a1a1a" stroke="#1a1a1a"><tspan x="0" y="0">Cycle 1/</tspan><tspan x="0" y="7.6">day 29</tspan></text>
<text transform="translate(267.35 507.80) rotate(-45)" font-size="7.1" text-anchor="end" fill="#1a1a1a" stroke="#1a1a1a"><tspan x="0" y="0">Cycle 2/</tspan><tspan x="0" y="7.6">day 1</tspan></text>
<text transform="translate(287.60 507.80) rotate(-45)" font-size="7.1" text-anchor="end" fill="#1a1a1a" stroke="#1a1a1a"><tspan x="0" y="0">Cycle 2/</tspan><tspan x="0" y="7.6">day 15</tspan></text>
<text transform="translate(307.85 507.80) rotate(-45)" font-size="7.1" text-anchor="end" fill="#1a1a1a" stroke="#1a1a1a"><tspan x="0" y="0">Cycle 2/</tspan><tspan x="0" y="7.6">day 29</tspan></text>
<text transform="translate(328.10 507.80) rotate(-45)" font-size="7.1" text-anchor="end" fill="#1a1a1a" stroke="#1a1a1a"><tspan x="0" y="0">Cycle 3/</tspan><tspan x="0" y="7.6">day 1</tspan></text>
<text x="202.50" y="539.70" font-size="7.3" text-anchor="end" fill="#cb3a69">A+Ax</text>
<text x="202.50" y="548.20" font-size="7.3" text-anchor="end" fill="#459da1">Sunitinib</text>
<path d="M207.00 537.2H327.20" stroke="#d42c5f" stroke-width="1.2" fill="none"/>
<path d="M330.50 537.2l-4.2 -2v4z" fill="#d42c5f"/>
<path d="M207.00 545.7H245.90M248.70 543.2v5" stroke="#2a8783" stroke-width="1.1" fill="none"/>
<path d="M248.40 545.7l-3.8 -1.9v3.8z" fill="#2a8783"/>
<path d="M268.35 545.7H307.25M310.05 543.2v5" stroke="#2a8783" stroke-width="1.1" fill="none"/>
<path d="M309.75 545.7l-3.8 -1.9v3.8z" fill="#2a8783"/>
<text x="436.21" y="420.30" font-size="7.0" text-anchor="middle" fill="#1a1a1a" stroke="#1a1a1a">Basophils</text>
<path d="M373.70 425.30V500.90H498.42" stroke="#454545" stroke-width="0.9" fill="none"/>
<line x1="371.70" y1="500.50" x2="373.70" y2="500.50" stroke="#454545" stroke-width="0.8"/>
<text x="370.10" y="503.00" font-size="7" text-anchor="end" fill="#1a1a1a" stroke="#1a1a1a">0.00</text>
<line x1="371.70" y1="486.84" x2="373.70" y2="486.84" stroke="#454545" stroke-width="0.8"/>
<text x="370.10" y="489.34" font-size="7" text-anchor="end" fill="#1a1a1a" stroke="#1a1a1a">0.01</text>
<line x1="371.70" y1="473.18" x2="373.70" y2="473.18" stroke="#454545" stroke-width="0.8"/>
<text x="370.10" y="475.68" font-size="7" text-anchor="end" fill="#1a1a1a" stroke="#1a1a1a">0.02</text>
<line x1="371.70" y1="459.52" x2="373.70" y2="459.52" stroke="#454545" stroke-width="0.8"/>
<text x="370.10" y="462.02" font-size="7" text-anchor="end" fill="#1a1a1a" stroke="#1a1a1a">0.03</text>
<line x1="371.70" y1="445.86" x2="373.70" y2="445.86" stroke="#454545" stroke-width="0.8"/>
<text x="370.10" y="448.36" font-size="7" text-anchor="end" fill="#1a1a1a" stroke="#1a1a1a">0.04</text>
<line x1="371.70" y1="432.20" x2="373.70" y2="432.20" stroke="#454545" stroke-width="0.8"/>
<text x="370.10" y="434.70" font-size="7" text-anchor="end" fill="#1a1a1a" stroke="#1a1a1a">0.05</text>
<line x1="374.70" y1="500.90" x2="374.70" y2="502.90" stroke="#454545" stroke-width="0.8"/>
<line x1="395.07" y1="500.90" x2="395.07" y2="502.90" stroke="#454545" stroke-width="0.8"/>
<line x1="415.44" y1="500.90" x2="415.44" y2="502.90" stroke="#454545" stroke-width="0.8"/>
<line x1="435.81" y1="500.90" x2="435.81" y2="502.90" stroke="#454545" stroke-width="0.8"/>
<line x1="456.18" y1="500.90" x2="456.18" y2="502.90" stroke="#454545" stroke-width="0.8"/>
<line x1="476.55" y1="500.90" x2="476.55" y2="502.90" stroke="#454545" stroke-width="0.8"/>
<line x1="496.92" y1="500.90" x2="496.92" y2="502.90" stroke="#454545" stroke-width="0.8"/>
<text transform="translate(352.90 463.10) rotate(-90)" font-size="7.25" text-anchor="middle" fill="#1a1a1a" stroke="#1a1a1a">Mean (10<tspan font-size="5" dy="-2.8">9</tspan><tspan dy="2.8">/L)</tspan></text>
<polyline points="374.70,441.76 395.07,452.69 415.44,471.13 435.81,481.38 456.18,465.67 476.55,478.64 496.92,479.33" fill="none" stroke="#2a8783" stroke-width="0.8" stroke-linejoin="round"/>
<path d="M374.50 440.16V443.36M373.40 440.16h2.2M373.40 443.36h2.2M395.50 450.49V454.89M394.40 450.49h2.2M394.40 454.89h2.2M415.50 469.13V473.13M414.40 469.13h2.2M414.40 473.13h2.2M435.50 479.58V483.18M434.40 479.58h2.2M434.40 483.18h2.2M456.50 463.27V468.07M455.40 463.27h2.2M455.40 468.07h2.2M476.50 476.44V480.84M475.40 476.44h2.2M475.40 480.84h2.2M496.50 477.13V481.53M495.40 477.13h2.2M495.40 481.53h2.2" stroke="#1d6461" stroke-width="0.65" fill="none"/>
<polyline points="374.70,438.35 395.07,429.47 415.44,434.93 435.81,442.44 456.18,440.40 476.55,440.40 496.92,443.81" fill="none" stroke="#d42c5f" stroke-width="0.8" stroke-linejoin="round"/>
<path d="M374.50 435.75V440.95M373.40 435.75h2.2M373.40 440.95h2.2M395.50 426.27V432.67M394.40 426.27h2.2M394.40 432.67h2.2M415.50 431.93V437.93M414.40 431.93h2.2M414.40 437.93h2.2M435.50 439.44V445.44M434.40 439.44h2.2M434.40 445.44h2.2M456.50 437.40V443.40M455.40 437.40h2.2M455.40 443.40h2.2M476.50 437.60V443.20M475.40 437.60h2.2M475.40 443.20h2.2M496.50 441.01V446.61M495.40 441.01h2.2M495.40 446.61h2.2" stroke="#a3224f" stroke-width="0.65" fill="none"/>
<text transform="translate(374.80 508.20) rotate(-45)" font-size="7.1" text-anchor="end" fill="#1a1a1a" stroke="#1a1a1a">Baseline</text>
<text transform="translate(395.17 508.20) rotate(-45)" font-size="7.1" text-anchor="end" fill="#1a1a1a" stroke="#1a1a1a"><tspan x="0" y="0">Cycle 1/</tspan><tspan x="0" y="7.6">day 15</tspan></text>
<text transform="translate(415.54 508.20) rotate(-45)" font-size="7.1" text-anchor="end" fill="#1a1a1a" stroke="#1a1a1a"><tspan x="0" y="0">Cycle 1/</tspan><tspan x="0" y="7.6">day 29</tspan></text>
<text transform="translate(435.91 508.20) rotate(-45)" font-size="7.1" text-anchor="end" fill="#1a1a1a" stroke="#1a1a1a"><tspan x="0" y="0">Cycle 2/</tspan><tspan x="0" y="7.6">day 1</tspan></text>
<text transform="translate(456.28 508.20) rotate(-45)" font-size="7.1" text-anchor="end" fill="#1a1a1a" stroke="#1a1a1a"><tspan x="0" y="0">Cycle 2/</tspan><tspan x="0" y="7.6">day 15</tspan></text>
<text transform="translate(476.65 508.20) rotate(-45)" font-size="7.1" text-anchor="end" fill="#1a1a1a" stroke="#1a1a1a"><tspan x="0" y="0">Cycle 2/</tspan><tspan x="0" y="7.6">day 29</tspan></text>
<text transform="translate(497.02 508.20) rotate(-45)" font-size="7.1" text-anchor="end" fill="#1a1a1a" stroke="#1a1a1a"><tspan x="0" y="0">Cycle 3/</tspan><tspan x="0" y="7.6">day 1</tspan></text>
<text x="371.00" y="539.70" font-size="7.3" text-anchor="end" fill="#cb3a69">A+Ax</text>
<text x="371.00" y="548.20" font-size="7.3" text-anchor="end" fill="#459da1">Sunitinib</text>
<path d="M374.80 537.2H495.60" stroke="#d42c5f" stroke-width="1.2" fill="none"/>
<path d="M498.90 537.2l-4.2 -2v4z" fill="#d42c5f"/>
<path d="M374.80 545.7H413.90M416.70 543.2v5" stroke="#2a8783" stroke-width="1.1" fill="none"/>
<path d="M416.40 545.7l-3.8 -1.9v3.8z" fill="#2a8783"/>
<path d="M436.45 545.7H475.55M478.35 543.2v5" stroke="#2a8783" stroke-width="1.1" fill="none"/>
<path d="M478.05 545.7l-3.8 -1.9v3.8z" fill="#2a8783"/>
<text x="98.64" y="573.60" font-size="7.1" text-anchor="middle" fill="#1a1a1a" stroke="#1a1a1a">Monocytes</text>
<path d="M36.00 578.30V654.00H162.08" stroke="#454545" stroke-width="0.9" fill="none"/>
<line x1="34.00" y1="654.00" x2="36.00" y2="654.00" stroke="#454545" stroke-width="0.8"/>
<text x="32.40" y="656.50" font-size="7" text-anchor="end" fill="#1a1a1a" stroke="#1a1a1a">0.0</text>
<line x1="34.00" y1="630.30" x2="36.00" y2="630.30" stroke="#454545" stroke-width="0.8"/>
<text x="32.40" y="632.80" font-size="7" text-anchor="end" fill="#1a1a1a" stroke="#1a1a1a">0.2</text>
<line x1="34.00" y1="606.60" x2="36.00" y2="606.60" stroke="#454545" stroke-width="0.8"/>
<text x="32.40" y="609.10" font-size="7" text-anchor="end" fill="#1a1a1a" stroke="#1a1a1a">0.4</text>
<line x1="34.00" y1="582.90" x2="36.00" y2="582.90" stroke="#454545" stroke-width="0.8"/>
<text x="32.40" y="585.40" font-size="7" text-anchor="end" fill="#1a1a1a" stroke="#1a1a1a">0.6</text>
<line x1="37.10" y1="654.00" x2="37.10" y2="656.00" stroke="#454545" stroke-width="0.8"/>
<line x1="57.68" y1="654.00" x2="57.68" y2="656.00" stroke="#454545" stroke-width="0.8"/>
<line x1="78.26" y1="654.00" x2="78.26" y2="656.00" stroke="#454545" stroke-width="0.8"/>
<line x1="98.84" y1="654.00" x2="98.84" y2="656.00" stroke="#454545" stroke-width="0.8"/>
<line x1="119.42" y1="654.00" x2="119.42" y2="656.00" stroke="#454545" stroke-width="0.8"/>
<line x1="140.00" y1="654.00" x2="140.00" y2="656.00" stroke="#454545" stroke-width="0.8"/>
<line x1="160.58" y1="654.00" x2="160.58" y2="656.00" stroke="#454545" stroke-width="0.8"/>
<text transform="translate(19.30 616.15) rotate(-90)" font-size="7.25" text-anchor="middle" fill="#1a1a1a" stroke="#1a1a1a">Mean (10<tspan font-size="5" dy="-2.8">9</tspan><tspan dy="2.8">/L)</tspan></text>
<polyline points="37.10,581.71 57.68,613.71 78.26,617.26 98.84,596.76 119.42,611.93 140.00,620.23 160.58,599.25" fill="none" stroke="#2a8783" stroke-width="0.8" stroke-linejoin="round"/>
<path d="M37.50 580.71V582.71M36.40 580.71h2.2M36.40 582.71h2.2M57.50 612.71V614.71M56.40 612.71h2.2M56.40 614.71h2.2M78.50 616.26V618.26M77.40 616.26h2.2M77.40 618.26h2.2M98.50 595.16V598.36M97.40 595.16h2.2M97.40 598.36h2.2M119.50 610.93V612.93M118.40 610.93h2.2M118.40 612.93h2.2M140.50 619.23V621.23M139.40 619.23h2.2M139.40 621.23h2.2M160.50 597.25V601.25M159.40 597.25h2.2M159.40 601.25h2.2" stroke="#1d6461" stroke-width="0.65" fill="none"/>
<polyline points="37.10,581.12 57.68,580.77 78.26,582.90 98.84,584.68 119.42,584.09 140.00,585.51 160.58,587.88" fill="none" stroke="#d42c5f" stroke-width="0.8" stroke-linejoin="round"/>
<path d="M37.50 579.92V582.32M36.40 579.92h2.2M36.40 582.32h2.2M57.50 579.17V582.37M56.40 579.17h2.2M56.40 582.37h2.2M78.50 580.90V584.90M77.40 580.90h2.2M77.40 584.90h2.2M98.50 582.68V586.68M97.40 582.68h2.2M97.40 586.68h2.2M119.50 582.29V585.88M118.40 582.29h2.2M118.40 585.88h2.2M140.50 583.71V587.31M139.40 583.71h2.2M139.40 587.31h2.2M160.50 585.88V589.88M159.40 585.88h2.2M159.40 589.88h2.2" stroke="#a3224f" stroke-width="0.65" fill="none"/>
<text transform="translate(37.20 661.30) rotate(-45)" font-size="7.1" text-anchor="end" fill="#1a1a1a" stroke="#1a1a1a">Baseline</text>
<text transform="translate(57.78 661.30) rotate(-45)" font-size="7.1" text-anchor="end" fill="#1a1a1a" stroke="#1a1a1a"><tspan x="0" y="0">Cycle 1/</tspan><tspan x="0" y="7.6">day 15</tspan></text>
<text transform="translate(78.36 661.30) rotate(-45)" font-size="7.1" text-anchor="end" fill="#1a1a1a" stroke="#1a1a1a"><tspan x="0" y="0">Cycle 1/</tspan><tspan x="0" y="7.6">day 29</tspan></text>
<text transform="translate(98.94 661.30) rotate(-45)" font-size="7.1" text-anchor="end" fill="#1a1a1a" stroke="#1a1a1a"><tspan x="0" y="0">Cycle 2/</tspan><tspan x="0" y="7.6">day 1</tspan></text>
<text transform="translate(119.52 661.30) rotate(-45)" font-size="7.1" text-anchor="end" fill="#1a1a1a" stroke="#1a1a1a"><tspan x="0" y="0">Cycle 2/</tspan><tspan x="0" y="7.6">day 15</tspan></text>
<text transform="translate(140.10 661.30) rotate(-45)" font-size="7.1" text-anchor="end" fill="#1a1a1a" stroke="#1a1a1a"><tspan x="0" y="0">Cycle 2/</tspan><tspan x="0" y="7.6">day 29</tspan></text>
<text transform="translate(160.68 661.30) rotate(-45)" font-size="7.1" text-anchor="end" fill="#1a1a1a" stroke="#1a1a1a"><tspan x="0" y="0">Cycle 3/</tspan><tspan x="0" y="7.6">day 1</tspan></text>
<text x="33.00" y="695.10" font-size="7.3" text-anchor="end" fill="#cb3a69">A+Ax</text>
<text x="33.00" y="703.80" font-size="7.3" text-anchor="end" fill="#459da1">Sunitinib</text>
<path d="M37.00 692.6H157.20" stroke="#d42c5f" stroke-width="1.2" fill="none"/>
<path d="M160.50 692.6l-4.2 -2v4z" fill="#d42c5f"/>
<path d="M37.00 701.3H75.90M78.70 698.8v5" stroke="#2a8783" stroke-width="1.1" fill="none"/>
<path d="M78.40 701.3l-3.8 -1.9v3.8z" fill="#2a8783"/>
<path d="M98.35 701.3H137.25M140.05 698.8v5" stroke="#2a8783" stroke-width="1.1" fill="none"/>
<path d="M139.75 701.3l-3.8 -1.9v3.8z" fill="#2a8783"/>
</svg>
</body></html>
